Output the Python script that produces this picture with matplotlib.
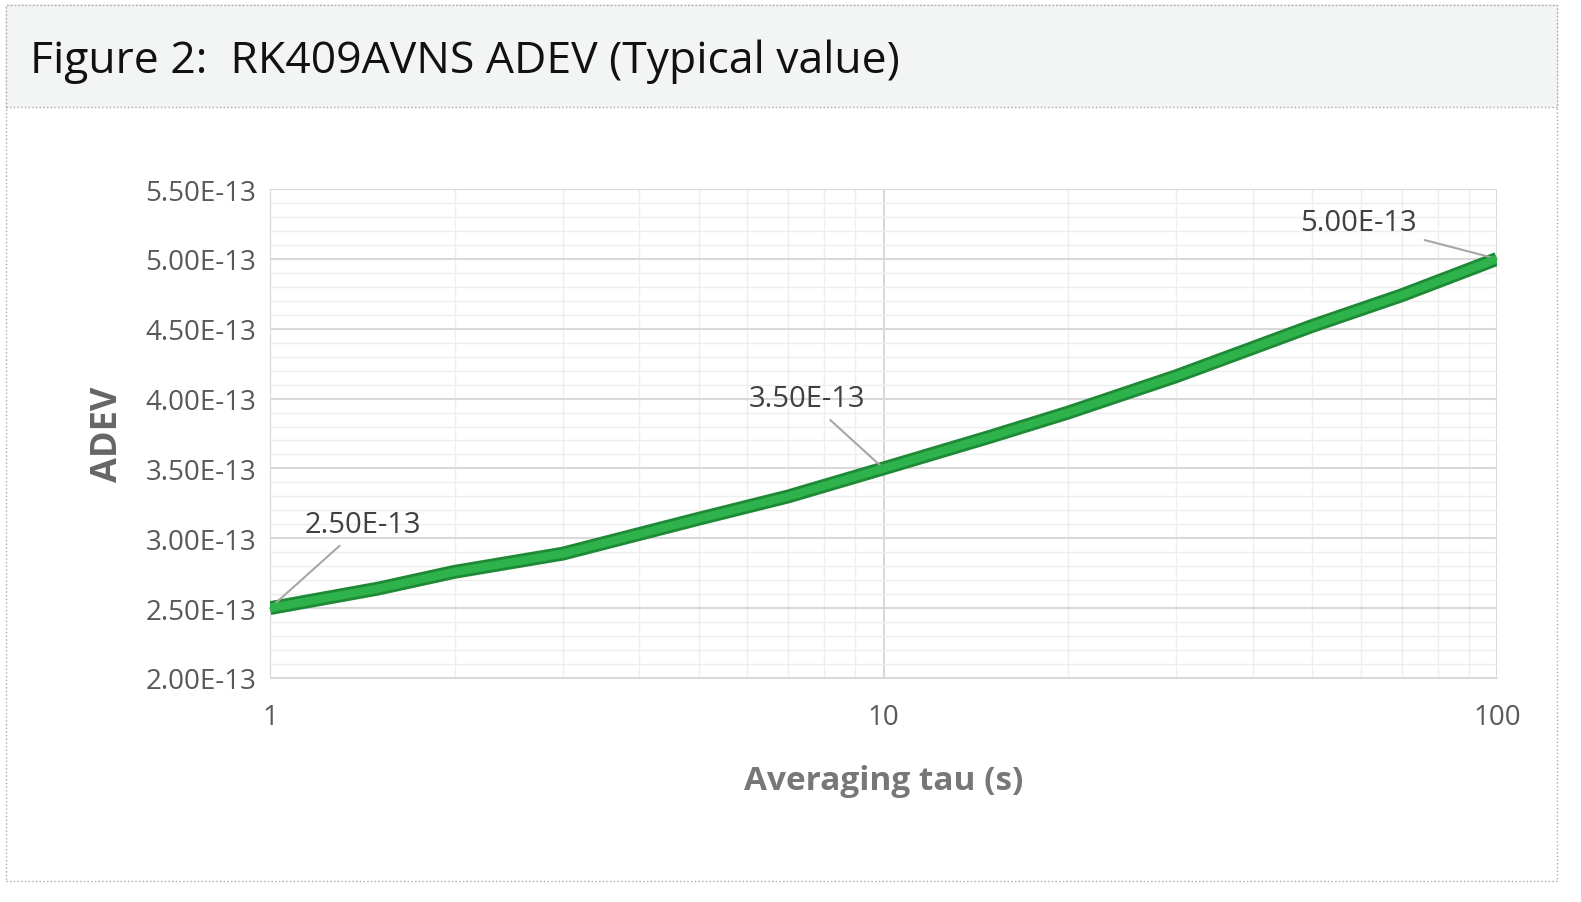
import matplotlib.pyplot as plt
from matplotlib.patches import Rectangle
import numpy as np

plt.rcParams['font.family'] = ['Open Sans', 'DejaVu Sans']

# datos
tau = [1, 1.5, 2, 3, 5, 7, 10, 15, 20, 30, 50, 70, 100]
adev = [2.50e-13, 2.64e-13, 2.76e-13, 2.89e-13, 3.14e-13, 3.30e-13, 3.50e-13,
        3.73e-13, 3.90e-13, 4.16e-13, 4.52e-13, 4.74e-13, 5.00e-13]
etiquetas = [(1, 2.50e-13), (10, 3.50e-13), (100, 5.00e-13)]

W, H = 1581, 903
fig = plt.figure(figsize=(W / 100, H / 100), dpi=100)

# marco y banda del titulo
fig.patches.append(Rectangle((6 / W, 1 - 882 / H), 1551 / W, 876 / H, transform=fig.transFigure,
                             fill=False, ec='#aaaaaa', ls=':', lw=1))
fig.patches.append(Rectangle((6 / W, 1 - 108 / H), 1551 / W, 102 / H, transform=fig.transFigure,
                             fc='#f3f5f4', ec='#aaaaaa', ls=':', lw=1))
fig.text(30 / W, 1 - 62 / H, 'Figure 2:  RK409AVNS ADEV (Typical value)', fontsize=32,
         va='center', color='#111111')

ax = fig.add_axes([270 / W, 1 - 679 / H, 1227 / W, 489 / H])
ax.set_xscale('log')
ax.set_xlim(1, 100)
ax.set_ylim(2.0e-13, 5.5e-13)
yt = np.arange(2.0e-13, 5.51e-13, 0.5e-13)
ax.set_yticks(yt)
ax.set_yticklabels(['%.2fE-13' % (v * 1e13) for v in yt])
ax.set_yticks(np.arange(2.0e-13, 5.5e-13, 0.1e-13), minor=True)
ax.set_xticks([1, 10, 100])
ax.set_xticklabels(['1', '10', '100'])
ax.grid(True, which='major', color='#d9d9d9', lw=1.5)
ax.grid(True, which='minor', color='#eeeeee', lw=1)
for s in ax.spines.values():
    s.set_visible(False)
ax.spines['left'].set_visible(True)
ax.spines['left'].set_color('#d9d9d9')
ax.spines['bottom'].set_visible(True)
ax.spines['bottom'].set_color('#d9d9d9')
ax.tick_params(which='both', length=0, labelsize=20, colors='#595959', pad=10)
ax.tick_params(axis='x', pad=18)

ax.plot(tau, adev, color='#1e8a36', lw=10, solid_capstyle='butt', solid_joinstyle='round', zorder=3)
ax.plot(tau, adev, color='#2eb24c', lw=6, solid_capstyle='butt', solid_joinstyle='round', zorder=4)

offs = [((25, 60), 'left'), ((-55, 50), 'center'), ((-58, 26), 'right')]
for (x, y), (o, ha) in zip(etiquetas, offs):
    ax.annotate('%.2fE-13' % (y * 1e13), (x, y), xytext=o, textcoords='offset points',
                fontsize=21, color='#404040', ha=ha, va='center',
                arrowprops=dict(arrowstyle='-', color='#a6a6a6', lw=1.5, shrinkA=4, shrinkB=0))

ax.set_xlabel('Averaging tau (s)', fontsize=24, color='#777777', fontweight='bold', labelpad=24)
ax.set_ylabel('ADEV', fontsize=26, color='#666666', fontweight='bold', labelpad=14)

fig.savefig('out.png', dpi=100)
